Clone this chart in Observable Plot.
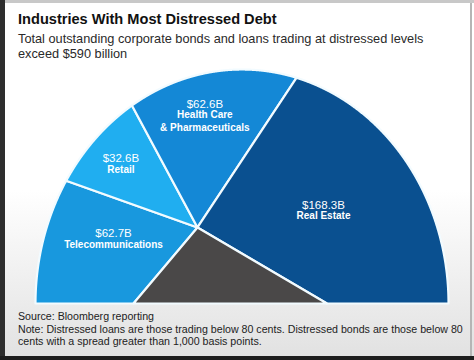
<!DOCTYPE html>
<html><head><meta charset="utf-8">
<script src="https://cdn.jsdelivr.net/npm/d3@7"></script>
<script src="https://cdn.jsdelivr.net/npm/@observablehq/plot@0.6"></script>
<style>
html,body{margin:0;padding:0;background:#fff;}
#frame{position:relative;width:474px;height:360px;overflow:hidden;background:linear-gradient(to bottom,#ffffff 0px,#ffffff 190px,#e2e2e2 355px);font-family:"Liberation Sans",Arial,Helvetica,sans-serif;}
.edge{position:absolute;}
#title{position:absolute;left:18px;top:11.4px;font-weight:bold;font-size:14.6px;line-height:17px;color:#111;white-space:nowrap;}
#sub{position:absolute;left:18px;top:31px;font-size:12.75px;line-height:15px;color:#2a2a2a;white-space:nowrap;}
#chart{position:absolute;left:0;top:62px;}
#notes{position:absolute;left:18px;top:310px;font-size:10.65px;line-height:12.5px;color:#222;white-space:nowrap;}
</style></head><body>
<div id="frame">
  <div class="edge" style="left:0;top:0;width:474px;height:3px;background:#c8c8c8"></div>
  <div class="edge" style="left:0;top:0;width:5px;height:360px;background:#2e2e2e"></div>
  <div class="edge" style="left:0;top:356px;width:474px;height:4px;background:#1e1e1e"></div>
  <div class="edge" style="left:470px;top:3px;width:2px;height:353px;background:#b5b5b5"></div>
  <div id="title">Industries With Most Distressed Debt</div>
  <div id="sub">Total outstanding corporate bonds and loans trading at distressed levels<br>exceed $590 billion</div>
  <div id="chart"></div>
  <div id="notes">Source: Bloomberg reporting<br>Note: Distressed loans are those trading below 80 cents. Distressed bonds are those below 80<br>cents with a spread greater than 1,000 basis points.</div>
</div>
<script>
// ---- data ----
const categories = ["Telecommunications", "Retail", "Health Care\n& Pharmaceuticals", "Real Estate", "Other"];
const values = [62.7, 32.6, 62.6, 168.3, 35];
const valueLabels = ["$62.7B", "$32.6B", "$62.6B", "$168.3B", ""];

// ---- layout: area-proportional partition of a half disc around an off-centre hub ----
const xRange = [35, 448], yRange = [241, 7];
const hub = [-0.2155, 0.325];
const startAngle = Math.atan2(-0.325, -0.31);
const N = 3600;
const dA = 2 * Math.PI / N;
function reach(a) {
  const dx = Math.cos(a), dy = Math.sin(a);
  const b = hub[0] * dx + hub[1] * dy;
  const c = hub[0] * hub[0] + hub[1] * hub[1] - 1;
  let t = -b + Math.sqrt(b * b - c);
  if (dy < -1e-12) t = Math.min(t, -hub[1] / dy);
  return t;
}
function pt(a) { const t = reach(a); return [hub[0] + t * Math.cos(a), hub[1] + t * Math.sin(a)]; }
function norm(a) { while (a > startAngle) a -= 2 * Math.PI; while (a <= startAngle - 2 * Math.PI) a += 2 * Math.PI; return a; }
const angles = d3.range(N + 1).map(k => startAngle - k * dA);
const cum = [0];
for (let k = 0; k < N; k++) { const t = reach(angles[k] - dA / 2); cum.push(cum[k] + 0.5 * t * t * dA); }
const total = d3.sum(values);
function angleAt(A) {
  let k = d3.bisectRight(cum, A) - 1;
  k = Math.max(0, Math.min(N - 1, k));
  return angles[k] - dA * (A - cum[k]) / (cum[k + 1] - cum[k]);
}
// label spot: anisotropic pole of inaccessibility of the slice, in pixel space
const sx = d3.scaleLinear([-1, 1], xRange), sy = d3.scaleLinear([0, 1], yRange);
function segDist(p, a, b) {
  const vx = b[0] - a[0], vy = b[1] - a[1];
  const L = vx * vx + vy * vy;
  let t = L ? ((p[0] - a[0]) * vx + (p[1] - a[1]) * vy) / L : 0;
  t = Math.max(0, Math.min(1, t));
  const dx = p[0] - a[0] - t * vx, dy = p[1] - a[1] - t * vy;
  return Math.sqrt(dx * dx + dy * dy);
}
function pole(poly, k) {
  const P = poly.filter((p, i) => i === 0 || i % 6 === 0 || i === poly.length - 1).map(p => [sx(p[0]), sy(p[1])]);
  const Q = P.map(p => [p[0] * k, p[1]]);
  const [x0, x1] = d3.extent(P, p => p[0]), [y0, y1] = d3.extent(P, p => p[1]);
  let best = null, bd = -1;
  for (let x = x0; x <= x1; x += 2) for (let y = y0; y <= y1; y += 2) {
    if (!d3.polygonContains(P, [x, y])) continue;
    let d = Infinity;
    for (let i = 0; i < Q.length; i++) d = Math.min(d, segDist([x * k, y], Q[i], Q[(i + 1) % Q.length]));
    if (d > bd) { bd = d; best = [x, y]; }
  }
  return best;
}
const corners = [norm(Math.atan2(-hub[1], 1 - hub[0])), norm(Math.atan2(-hub[1], -1 - hub[0]))];
const rows = [], labels = [];
let acc = 0;
values.forEach((v, i) => {
  const a0 = i === 0 ? startAngle : angleAt(cum[N] * acc / total);
  acc += v;
  const a1 = i === values.length - 1 ? startAngle - 2 * Math.PI : angleAt(cum[N] * acc / total);
  const as = angles.filter(a => a < a0 && a > a1).concat(corners.filter(a => a < a0 && a > a1));
  as.push(a0, a1);
  as.sort((p, q) => q - p);
  const poly = [hub, ...as.map(pt)];
  poly.forEach(p => rows.push({cat: categories[i], x: p[0], y: p[1]}));
  if (valueLabels[i]) {
    const lines = categories[i].split("\n");
    const boxW = Math.max(valueLabels[i].length * 6.4, d3.max(lines, l => l.length * 5.9));
    const boxH = 13 + 12.5 * lines.length;
    const c = pole(poly, Math.sqrt(boxH / boxW));
    const top = c[1] - boxH / 2;
    labels.push({
      x: sx.invert(c[0]),
      vy: sy.invert(top + 11),
      ny: sy.invert(top + 13),
      value: valueLabels[i],
      name: categories[i]
    });
  }
});

const chart = Plot.plot({
  width: 474,
  height: 246,
  x: {domain: [-1, 1], range: xRange, axis: null},
  y: {domain: [0, 1], range: yRange, axis: null},
  color: {domain: categories, range: ["#1898de", "#20aef0", "#1488d6", "#0a5090", "#4a4848"]},
  style: {background: "transparent", fontFamily: "'Liberation Sans', Arial, sans-serif", overflow: "visible"},
  marks: [
    Plot.line(rows, {x: "x", y: "y", z: "cat", fill: "cat", stroke: "#f2fbff", strokeWidth: 2.2, strokeLinejoin: "round", curve: "linear-closed"}),
    Plot.text(labels, {x: "x", y: "vy", text: "value", fill: "white", fontSize: 11.5, lineAnchor: "bottom"}),
    Plot.text(labels, {x: "x", y: "ny", text: "name", fill: "white", fontSize: 10, fontWeight: "bold", lineAnchor: "top", lineHeight: 1.25})
  ]
});
document.getElementById("chart").appendChild(chart);
</script>
</body></html>
